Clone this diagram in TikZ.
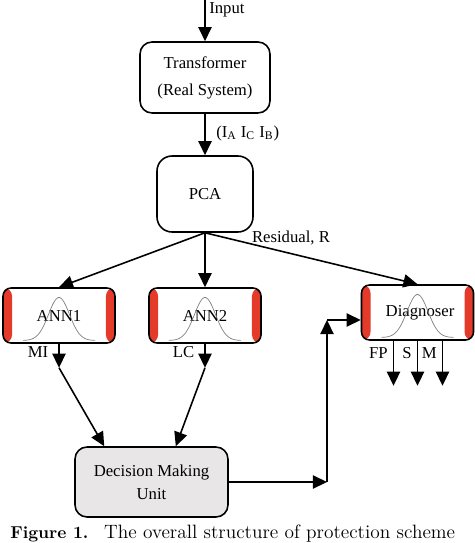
\documentclass[tikz,border=0pt]{standalone}
\usepackage{fontspec}
\newfontfamily\figfont{Liberation Serif}
\usetikzlibrary{arrows.meta}
\definecolor{annred}{RGB}{228,58,42}
\definecolor{dmugray}{RGB}{232,230,230}
\tikzset{
  arr/.style={line width=0.9pt,-{Triangle[length=8pt,width=7.5pt]}},
  lbl/.style={font=\figfont\fontsize{9.5}{11}\selectfont,inner sep=2pt},
  gauss/.style={gray,line width=0.4pt},
  blk/.style={draw,line width=0.9pt,align=center,font=\figfont\fontsize{9.5}{15.3}\selectfont},
  annbox/.style={blk,rounded corners=0.16cm,minimum width=2.24cm,minimum height=1.1cm,
    path picture={
      \fill[annred] (path picture bounding box.south west) rectangle ([xshift=0.18cm]path picture bounding box.north west);
      \fill[annred] (path picture bounding box.south east) rectangle ([xshift=-0.18cm]path picture bounding box.north east);
    }}
}
\begin{document}
\begin{tikzpicture}[x=0.02cm,y=-0.02cm]
    \useasboundingbox (0,0) rectangle (474,543);
    %% blocks
    \node[blk,rounded corners=0.24cm,minimum width=2.6cm,minimum height=1.42cm] (trans) at (205,77.5) {Transformer\\(Real System)};
    \node[blk,rounded corners=0.3cm,minimum width=1.92cm,minimum height=1.52cm] (pca) at (205,194) {PCA};
    \node[annbox] (ann1) at (59,315.5) {ANN1};
    \node[annbox] (ann2) at (205,315.5) {ANN2};
    \node[annbox] (diag) at (417.5,312.5) {\hspace{0.1cm}Diagnoser};
    \node[blk,fill=dmugray,rounded corners=0.24cm,minimum width=3.06cm,minimum height=1.4cm,
      font=\figfont\fontsize{9.5}{13}\selectfont] (dmu) at (151.5,482) {Decision Making\\Unit};
    %% bell curves in the classifiers
    \foreach \b in {ann1,ann2,diag}
      \draw[gauss,shift={(\b.center)}] plot[domain=-36:36,samples=60,smooth] (\x,{25-43*exp(-(\x*\x)/220)});
    %% input and measurements
    \coordinate (in) at (205,0);
    \draw[arr] (in) -- (trans) node[lbl,pos=0.25,anchor=west] (inlbl) {Input};
    \draw[arr] (trans) -- (pca) node[lbl,pos=0.47,anchor=west,xshift=0.14cm] (ilbl) {(I\textsubscript{A} I\textsubscript{C} I\textsubscript{B})};
    %% residual
    \draw[arr] (pca.south) -- (ann1.north);
    \draw[arr] (pca.south) -- (ann2.north);
    \draw[arr] (pca.south) -- (diag.north);
    \node[lbl] (res) at (291,238) {Residual, R};
    %% networks to decision unit
    \coordinate (mi) at ([yshift=-0.48cm]ann1.south);
    \coordinate (lc) at ([yshift=-0.48cm]ann2.south);
    \draw[arr] (ann1.south) -- (mi) node[lbl,pos=0.35,anchor=east,xshift=-0.13cm] (milbl) {MI};
    \draw[arr] (mi) -- ([xshift=0.6cm]dmu.north west);
    \draw[arr] (ann2.south) -- (lc) node[lbl,pos=0.35,anchor=east,xshift=-0.13cm] (lclbl) {LC};
    \draw[arr] (lc) -- ([xshift=-1.06cm]dmu.north east);
    %% decision unit to diagnoser
    \coordinate (bend) at (327,482);
    \coordinate (up) at (327,320);
    \draw[arr] (dmu.east) -- (bend);
    \draw[arr] (bend) -- (up);
    \draw[arr] (up) -- (diag.west |- up);
    %% outputs
    \foreach \dx/\lab in {-0.48/FP,0/S,0.5/M}
      \draw[arr] ([xshift=\dx cm]diag.south) -- ++(0,45) node[lbl,pos=0.28,anchor=east,xshift=-0.03cm] (out\lab) {\lab};
    %% caption
    \node[anchor=base west,inner sep=0pt,font=\fontsize{11}{12}\selectfont] (caption) at (10,538)
      {{\fontsize{9.8}{12}\selectfont\bfseries Figure 1.}\hspace{9pt}The overall structure of protection scheme};
\end{tikzpicture}
\end{document}
